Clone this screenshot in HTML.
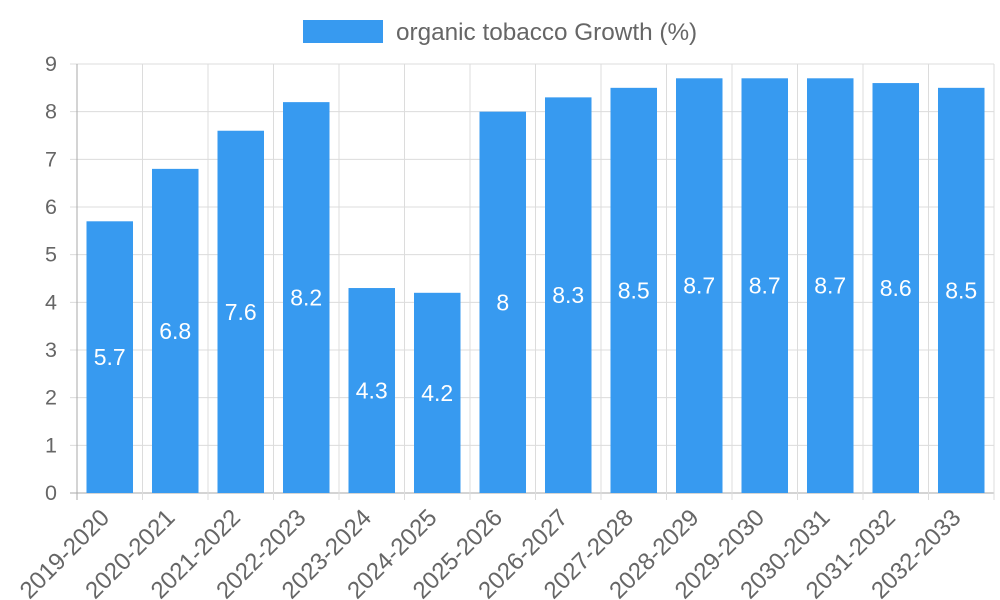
<!DOCTYPE html>
<html><head><meta charset="utf-8"><style>
body{margin:0;background:#fff;}
svg{display:block;font-family:"Liberation Sans",sans-serif;}
</style></head><body>
<svg id="c" width="1000" height="600"></svg>
<script>
const categories=["2019-2020","2020-2021","2021-2022","2022-2023","2023-2024","2024-2025","2025-2026","2026-2027","2027-2028","2028-2029","2029-2030","2030-2031","2031-2032","2032-2033"];
const values=[5.7,6.8,7.6,8.2,4.3,4.2,8,8.3,8.5,8.7,8.7,8.7,8.6,8.5];
const yTicks=[0,1,2,3,4,5,6,7,8,9];
const NS="http://www.w3.org/2000/svg";
const svg=document.getElementById('c');
const L=77,R=994,T=64,B=493,yMax=9;
const cw=(R-L)/categories.length;
const y=v=>B-(v/yMax)*(B-T);
const xc=i=>L+cw*(i+0.5);
function mk(tag,at,txt){const e=document.createElementNS(NS,tag);for(const k in at)e.setAttribute(k,at[k]);if(txt!==undefined)e.textContent=txt;svg.appendChild(e);return e;}
// legend
let e=mk('rect',{x:303,y:20,width:80,height:23,fill:'#379af0'});


e=mk('text',{x:396,y:40,'font-size':24.3,fill:'#666'},'organic tobacco Growth (%)');


// grid
yTicks.forEach(t=>{
  e=mk('line',{x1:70,x2:R,y1:y(t),y2:y(t),stroke:t===0?'#aaa':'#dcdcdc','stroke-width':1});
  
  
  e=mk('text',{x:57,y:y(t)+7,'font-size':21.5,fill:'#666','text-anchor':'end'},String(t));
  
  
});
for(let i=0;i<=categories.length;i++){
  const x=L+cw*i;
  e=mk('line',{x1:x,x2:x,y1:T,y2:B+7,stroke:i===0?'#aaa':'#dcdcdc','stroke-width':1});
  
  
}
categories.forEach((c,i)=>{
  const bw=cw*0.71,v=values[i];
  e=mk('rect',{x:xc(i)-bw/2,y:y(v),width:bw,height:B-y(v),fill:'#379af0'});
  
  
  e=mk('text',{x:xc(i),y:(y(v)+B)/2+8,'font-size':23,fill:'#fff','text-anchor':'middle'},String(v));
  
  
  const tx=xc(i)+1,ty=B+26;
  e=mk('text',{x:tx,y:ty,'font-size':24,fill:'#666','text-anchor':'end',transform:`rotate(-45 ${tx} ${ty})`},c);
  
  
});
</script>
</body></html>
